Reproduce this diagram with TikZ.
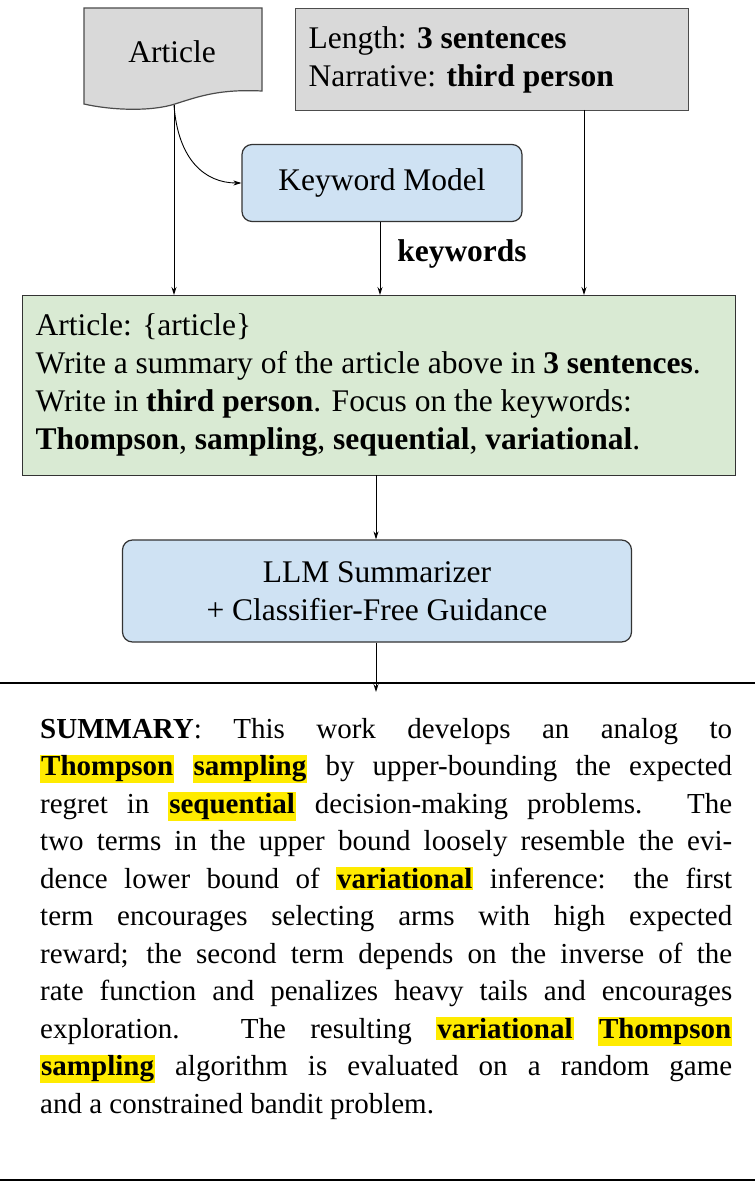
\documentclass[tikz,border=0pt]{standalone}
\usepackage{fontspec}
\setmainfont{Liberation Serif}
\usetikzlibrary{arrows.meta}
\definecolor{gbox}{HTML}{D9D9D9}
\definecolor{bbox}{HTML}{CFE2F3}
\definecolor{grn}{HTML}{D9EAD3}
\definecolor{hl}{HTML}{FFEB00}
\newcommand{\hlw}[1]{{\setlength{\fboxsep}{1pt}\colorbox{hl}{\textbf{#1}}}}
\tikzset{
  arr/.style={-{Stealth[length=8pt,width=5pt]},line width=0.9pt},
  graybox/.style={draw=black!70,line width=1.2pt,fill=gbox},
  bluebox/.style={draw=black!80,line width=1.2pt,fill=bbox,rounded corners=10pt,align=center},
  txt/.style={font=\fontsize{31.5}{38}\selectfont},
}
\begin{document}
\begin{tikzpicture}[x=1pt,y=-1pt]
\useasboundingbox (0,0) rectangle (755,1190);
% article doc
\draw[graybox] (84,8) -- (262,8) -- (262,91) .. controls (220,89) and (200,96) .. (175,104) .. controls (150,112) and (110,110) .. (84,104) -- cycle;
\node[txt] (art) at (172,52) {Article};
\coordinate (artb) at (174,105);
% params
\node[graybox,minimum width=393pt,minimum height=102pt,anchor=north west,inner sep=0] (par) at (295,8) {};
\node[txt,anchor=west,align=left] (partxt) at (305,60) {Length: \textbf{3 sentences}\\Narrative: \textbf{third person}};
% keyword model
\node[bluebox,txt,minimum width=280pt,minimum height=77pt] (kw) at (382,183) {Keyword Model};
% green box
\node[draw=black!80,line width=1.2pt,fill=grn,minimum width=713pt,minimum height=180pt,anchor=north west,inner sep=0] (prompt) at (22,295) {};
\node[txt,anchor=north west,align=left] (ptxt) at (32,310) {Article: \{article\}\\
Write a summary of the article above in \textbf{3 sentences}.\\
Write in \textbf{third person}. Focus on the keywords:\\
\textbf{Thompson}, \textbf{sampling}, \textbf{sequential}, \textbf{variational}.};
% LLM
\node[bluebox,txt,minimum width=509pt,minimum height=102pt] (llm) at (377,591) {LLM Summarizer\\+ Classifier-Free Guidance};
% arrows
\draw[arr] (artb) -- (artb |- prompt.north);
\draw[arr] (artb) .. controls (178,160) and (205,183) .. (kw.west);
\draw[arr] (380,222) -- (380,295);
\node[txt,font=\fontsize{31.5}{38}\selectfont\bfseries] (kwl) at (462,254) {keywords};
\draw[arr] (584,110) -- (584,295);
\draw[arr] (376,475) -- (llm.north -| 376,0);
\coordinate (end) at (376,692);
\draw[arr] (llm.south -| 376,0) -- (end);
\draw[line width=1.2pt] (0,683) -- (755,683);
\draw[line width=1.2pt] (0,1180) -- (755,1180);
% summary
\node[anchor=north west,inner sep=0] (sum) at (40,718) {\parbox{692pt}{\fontsize{29}{37.5}\selectfont\setlength{\parindent}{0pt}%
\textbf{SUMMARY}: This work develops an analog to\linebreak
\hlw{Thompson} \hlw{sampling} by upper-bounding the expected\linebreak
regret in \hlw{sequential} decision-making problems. The\linebreak
two terms in the upper bound loosely resemble the evi-\linebreak
dence lower bound of \hlw{variational} inference: the first\linebreak
term encourages selecting arms with high expected\linebreak
reward; the second term depends on the inverse of the\linebreak
rate function and penalizes heavy tails and encourages\linebreak
exploration. The resulting \hlw{variational} \hlw{Thompson}\linebreak
\hlw{sampling} algorithm is evaluated on a random game\linebreak
and a constrained bandit problem.}};
\end{tikzpicture}
\end{document}
